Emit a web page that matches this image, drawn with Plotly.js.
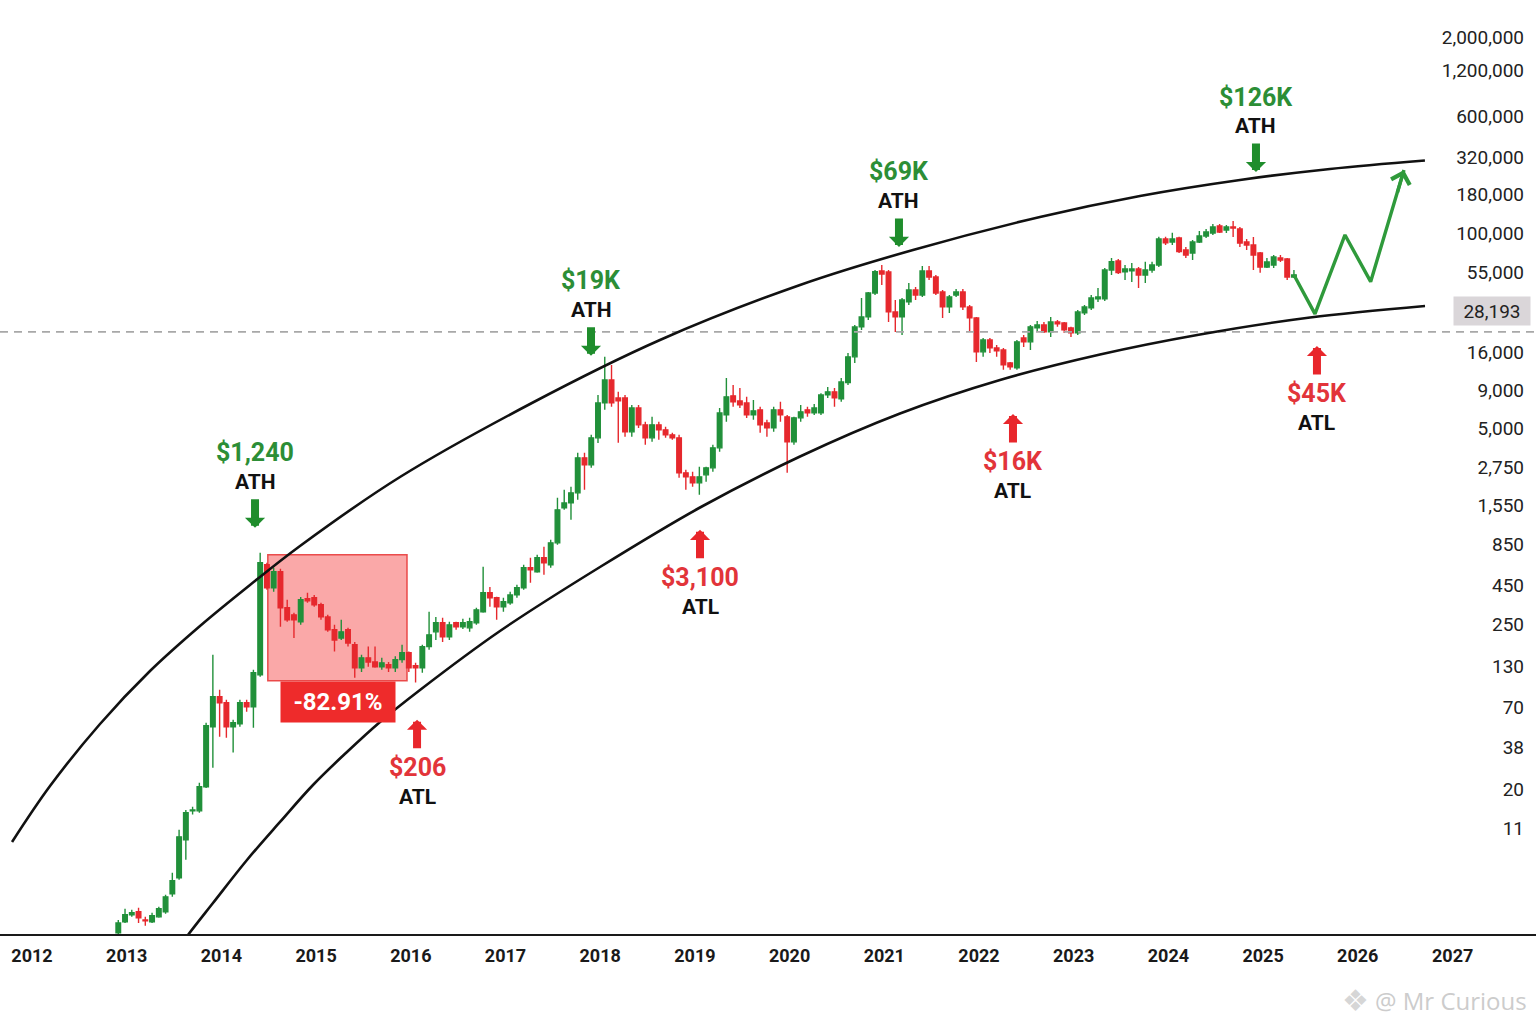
<!DOCTYPE html>
<html>
<head>
<meta charset="utf-8">
<script src="https://cdn.plot.ly/plotly-3.0.1.min.js"></script>
<style>
  html, body { margin: 0; padding: 0; background: #ffffff; }
  #chart { width: 1536px; height: 1024px; }
</style>
</head>
<body>
<div id="chart"></div>
<script>
// ---------------- DATA ----------------
// candle time index: first candle position (decimal year) and spacing between candles (years)
const candleStartYear = 2012.911;
const candleStepYears = 0.07135;

const openP = [
  2.21, 2.61, 2.91, 3.05, 2.69, 2.61, 2.82, 3.05, 4.02, 5.12,
  9.18, 14.3, 14.3, 20.7, 51.9, 82.1, 74.9, 51.9, 54.3, 74.9,
  70.4, 115, 620, 436, 557, 321, 288, 259, 369, 374,
  336, 279, 229, 202, 229, 182, 128, 149, 140, 130,
  134, 128, 145, 161, 132, 128, 177, 222, 255, 206,
  255, 240, 236, 255, 302, 404, 374, 326, 347, 391,
  436, 592, 557, 690, 620, 868, 1484, 1600, 1867, 3191,
  2866, 4333, 7405, 10530, 7995, 7995, 4752, 6860, 5288, 4333,
  5288, 4899, 4538, 4333, 2536, 2385, 2175, 2459, 2737, 3718,
  6163, 8246, 7637, 7405, 6163, 6654, 5452, 5050, 6654, 5978,
  4077, 5890, 6654, 6354, 6354, 8372, 8767, 7873, 10100, 14987,
  23727, 27645, 39907, 55920, 55070, 29847, 27645, 34780, 41790, 38710,
  55920, 51000, 40540, 32220, 38710, 40540, 32220, 27220, 16180, 19440,
  17190, 16680, 13660, 12660, 20040, 18860, 23350, 24460, 21970, 25610,
  25220, 23350, 21630, 29390, 31725, 36410, 36410, 56770, 65170, 55070,
  55920, 57630, 52580, 56770, 61280, 91230, 87160, 92640, 77110, 73640,
  87160, 95560, 100010, 111370, 104730, 109680, 106330, 87160, 83240, 73640,
  59440, 61280, 68210, 67170, 51000
];
const highP = [
  2.69, 3.19, 3.14, 3.24, 2.82, 3.00, 3.29, 3.95, 5.54, 10.7,
  14.5, 15.2, 22.0, 55.1, 156, 91.4, 78.4, 57.7, 78.4, 78.4,
  124, 745, 639, 592, 583, 363, 297, 379, 404, 391,
  347, 288, 247, 267, 236, 190, 156, 177, 177, 149,
  140, 153, 182, 164, 138, 182, 302, 279, 275, 259,
  259, 271, 275, 321, 601, 442, 380, 374, 410, 456,
  620, 690, 722, 817, 909, 1729, 1955, 2047, 3444, 3444,
  4538, 8372, 14990, 13250, 8767, 8372, 7183, 7183, 5538, 5978,
  5538, 5130, 4680, 4538, 2655, 2575, 2780, 2780, 3893, 6860,
  10856, 9757, 9318, 8121, 7755, 6968, 5709, 6968, 7522, 6163,
  5978, 7183, 6968, 7290, 8595, 9464, 9318, 10856, 15928, 24460,
  36970, 40536, 56770, 61280, 56770, 35860, 36970, 46515, 43770, 60360,
  60360, 52580, 41790, 38710, 42430, 42430, 33220, 27645, 20040, 20040,
  18000, 17190, 13880, 19440, 20980, 24460, 26000, 25610, 27645, 26400,
  25610, 23730, 30770, 33220, 38710, 43080, 58526, 68210, 67170, 61280,
  63180, 59440, 64440, 64440, 94500, 94500, 100490, 94500, 80740, 89860,
  103160, 106330, 114790, 114790, 113070, 120230, 109680, 91230, 94100, 74800,
  68210, 71420, 71420, 68210, 56770
];
const lowP = [
  2.11, 2.57, 2.82, 2.57, 2.46, 2.57, 2.78, 2.96, 3.83, 4.97,
  6.76, 13.5, 13.9, 20.3, 27.7, 44.5, 43.9, 34.9, 51.9, 65.3,
  51.1, 111.5, 423, 410, 240, 259, 202, 247, 347, 326,
  267, 222, 164, 196, 177, 110, 120, 130, 128, 124,
  120, 120, 138, 120, 102, 118.5, 169, 196, 190, 196,
  229, 232, 222, 247, 297, 326, 267, 302, 336, 374,
  423, 471, 549, 532, 592, 842, 1439, 1235, 1677, 1955,
  2737, 4000, 6654, 6968, 4014, 4402, 4402, 5050, 3893, 4077,
  4203, 4333, 4203, 2348, 1955, 2047, 1811, 2210, 2575, 3498,
  5538, 6968, 6860, 5886, 5709, 4679, 4402, 4752, 5538, 2536,
  3893, 5538, 5978, 6163, 6163, 7995, 6968, 7522, 9757, 13660,
  22650, 26400, 38710, 45120, 25608, 21970, 20980, 33220, 35860, 37550,
  48710, 38710, 27220, 29385, 37550, 30770, 21970, 13880, 14990, 15930,
  14990, 12280, 12280, 12280, 17460, 16680, 21970, 21630, 20350, 23730,
  21630, 20350, 20980, 28500, 30770, 34780, 35320, 52580, 53380, 48710,
  47250, 43080, 46520, 54440, 59440, 83240, 83240, 73640, 68210, 66160,
  85810, 92640, 97010, 100010, 100010, 94100, 80740, 77110, 56770, 54440,
  58530, 58530, 64180, 48710, 50210
];
const closeP = [
  2.57, 2.91, 3.00, 2.78, 2.65, 2.87, 3.19, 3.83, 4.90, 9.60,
  13.9, 14.5, 20.7, 52.7, 82.1, 74.9, 51.9, 55.1, 74.9, 70.4,
  118.5, 639, 436, 557, 321, 267, 267, 363, 357, 336,
  279, 229, 196, 222, 187, 128, 149, 140, 130, 138,
  128, 145, 161, 128, 128, 177, 212, 255, 206, 247,
  240, 255, 259, 311, 404, 374, 326, 352, 391, 436,
  592, 574, 690, 639, 868, 1439, 1600, 1867, 3191, 2866,
  4333, 7405, 10530, 7405, 7640, 4752, 6860, 5288, 4333, 5288,
  4899, 4538, 4333, 2536, 2385, 2175, 2385, 2737, 3718, 6354,
  8121, 7522, 7183, 6163, 6554, 5288, 5050, 6654, 6163, 4077,
  5890, 6454, 6354, 6860, 8372, 8767, 7995, 10214, 14987, 23727,
  27645, 39907, 55300, 53380, 29847, 27645, 35860, 41790, 38710, 55920,
  51000, 39907, 32220, 37550, 40540, 32220, 27220, 16180, 19440, 17190,
  16430, 13250, 12850, 18857, 18860, 23730, 24460, 21970, 25610, 24830,
  22650, 21630, 29850, 32220, 36970, 37550, 56770, 64440, 54450, 57630,
  57630, 52580, 56770, 61280, 91230, 86180, 91230, 75100, 71420, 87160,
  95560, 101590, 109680, 101590, 109680, 107970, 85810, 83240, 71420, 59440,
  64180, 69280, 66160, 51000, 52580
];

// channel curves (decimal year, price)
const upperYears = [2011.789, 2012.190, 2012.718, 2013.246, 2013.774, 2014.302, 2014.830, 2015.886, 2017.259,
                    2018.631, 2020.110, 2021.303, 2022.644, 2023.700, 2024.756, 2025.706, 2026.709];
const upperPrices = [8.87, 20.9, 54.1, 121.8, 242.8, 455, 827, 2379, 7281,
                     19410, 45080, 77080, 127800, 176300, 225300, 266600, 303600];
const lowerYears = [2013.510, 2013.647, 2013.911, 2014.270, 2014.619, 2014.967, 2015.326, 2015.675, 2016.097, 2016.942,
                    2017.998, 2019.054, 2020.110, 2021.166, 2022.222, 2023.278, 2024.334, 2025.496, 2026.710];
const lowerPrices = [1.62, 2.135, 3.485, 6.735, 12.06, 21.25, 35.23, 55.8, 91.1, 224.9,
                     599.5, 1491, 3257, 6295, 10520, 15540, 21120, 27400, 32690];

// projected path
const projYears = [2025.326, 2025.548, 2025.865, 2026.136, 2026.488];
const projPrices = [52580, 28950, 97010, 47450, 262500];

// reference price line and price tag
const priceLineValue = 21970;
const priceTagValue = 28193;

// drawdown box
const dropBoxYears = [2014.49, 2015.96];
const dropBoxPrices = [722, 105];
const dropLabel = '-82.91%';

// ATH / ATL callouts (arrow tip year, arrow tip price, text)
const athYears = [2014.355, 2017.903, 2021.155, 2024.925];
const athPrices = [1092, 15220, 80740, 254500];
const athTexts = ['$1,240', '$19K', '$69K', '$126K'];
const atlYears = [2016.066, 2019.054, 2022.359, 2025.569];
const atlPrices = [57.7, 1059, 6258, 17730];
const atlTexts = ['$206', '$3,100', '$16K', '$45K'];

// axes
const yearTicks = [2012, 2013, 2014, 2015, 2016, 2017, 2018, 2019, 2020, 2021, 2022, 2023, 2024, 2025, 2026, 2027];
const priceTicks = [11, 20, 38, 70, 130, 250, 450, 850, 1550, 2750, 5000, 9000, 16000, 55000, 100000, 180000, 320000, 600000, 1200000, 2000000];
const xRange = [2011.662, 2027.882];
const yRangeLog = [0.336, 6.550];
const watermark = '@ Mr Curious';

// ---------------- STYLE ----------------
const GREEN = '#21903a';
const RED = '#e6282d';
const TXT_GREEN = '#2c8e36';
const TXT_RED = '#e2343a';
const FONT = 'Roboto, Inter, "Liberation Sans", sans-serif';
const XFONT = { family: FONT, size: 18, color: '#1a1a1a', weight: 700 };
const fmt = v => String(v).replace(/\B(?=(\d{3})+(?!\d))/g, ',');
const L = v => Math.log10(v);

const candleX = openP.map((_, i) => candleStartYear + i * candleStepYears);

const traces = [
  {
    type: 'scatter', mode: 'lines',
    x: xRange, y: [priceLineValue, priceLineValue],
    line: { color: '#a8a8a8', width: 1.6, dash: '8px,6px' },
    hoverinfo: 'skip', showlegend: false
  },
  {
    type: 'candlestick',
    x: candleX, open: openP, high: highP, low: lowP, close: closeP,
    increasing: { line: { color: GREEN, width: 1.4 }, fillcolor: GREEN },
    decreasing: { line: { color: RED, width: 1.4 }, fillcolor: RED },
    whiskerwidth: 0, hoverinfo: 'skip', showlegend: false
  },
  {
    type: 'scatter', mode: 'lines', x: upperYears, y: upperPrices,
    line: { color: '#111111', width: 2.6, shape: 'spline', smoothing: 1 },
    hoverinfo: 'skip', showlegend: false
  },
  {
    type: 'scatter', mode: 'lines', x: lowerYears, y: lowerPrices,
    line: { color: '#111111', width: 2.6, shape: 'spline', smoothing: 1 },
    hoverinfo: 'skip', showlegend: false
  },
  {
    type: 'scatter', mode: 'lines', x: projYears, y: projPrices,
    line: { color: '#2f9a3b', width: 3.4 },
    hoverinfo: 'skip', showlegend: false
  }
];

// drawdown box drawn beneath the candles (shape positions on a log axis are data values)
const shapes = [{
  type: 'rect', layer: 'below', xref: 'x', yref: 'y',
  x0: dropBoxYears[0], x1: dropBoxYears[1], y0: dropBoxPrices[1], y1: dropBoxPrices[0],
  fillcolor: 'rgba(246,88,88,0.52)', line: { color: 'rgba(232,60,60,0.9)', width: 1.5 }
}];

const annotations = [];
athYears.forEach((yr, i) => {
  const y = L(athPrices[i]);
  annotations.push({ x: yr, y: y, xref: 'x', yref: 'y', text: '', showarrow: true,
    ax: 0, ay: -30, axref: 'pixel', ayref: 'pixel', arrowhead: 1, arrowsize: 0.42, arrowwidth: 8, arrowcolor: '#1f8d2c' });
  annotations.push({ x: yr, y: y, xref: 'x', yref: 'y', text: 'ATH', showarrow: false, yshift: 46,
    font: { family: FONT, size: 21, color: '#111', weight: 700 } });
  annotations.push({ x: yr, y: y, xref: 'x', yref: 'y', text: athTexts[i], showarrow: false, yshift: 75,
    font: { family: FONT, size: 25, color: TXT_GREEN, weight: 700 } });
});
atlYears.forEach((yr, i) => {
  const y = L(atlPrices[i]);
  annotations.push({ x: yr, y: y, xref: 'x', yref: 'y', text: '', showarrow: true,
    ax: 0, ay: 30, axref: 'pixel', ayref: 'pixel', arrowhead: 1, arrowsize: 0.42, arrowwidth: 8, arrowcolor: '#e8262b' });
  annotations.push({ x: yr, y: y, xref: 'x', yref: 'y', text: atlTexts[i], showarrow: false, yshift: -48,
    font: { family: FONT, size: 25, color: TXT_RED, weight: 700 } });
  annotations.push({ x: yr, y: y, xref: 'x', yref: 'y', text: 'ATL', showarrow: false, yshift: -77,
    font: { family: FONT, size: 21, color: '#111', weight: 700 } });
});
// drawdown label under the box
annotations.push({ x: (dropBoxYears[0] + dropBoxYears[1]) / 2 + 0.01, y: L(dropBoxPrices[1]), xref: 'x', yref: 'y',
  xanchor: 'center', yanchor: 'top', text: dropLabel, showarrow: false, width: 114, height: 40, bgcolor: '#ee2b2b', borderpad: 0,
  font: { family: FONT, size: 24, color: '#ffffff', weight: 700 } });
// projection arrow head
const nP = projYears.length - 1;
annotations.push({ x: projYears[nP], y: L(projPrices[nP]), xref: 'x', yref: 'y', text: '', showarrow: true,
  ax: -7, ay: 24, axref: 'pixel', ayref: 'pixel', arrowhead: 4, arrowsize: 1.1, arrowwidth: 3.4, arrowcolor: '#2f9a3b' });
// price tag on the right scale
annotations.push({ x: 1492 / 1536, xref: 'paper', xanchor: 'center', y: L(priceTagValue), yref: 'y', yanchor: 'middle', yshift: 5,
  text: fmt(priceTagValue), showarrow: false, width: 74, height: 26, bgcolor: '#dad6d9',
  font: { family: FONT, size: 19, color: '#222' } });
// last year label (the plot hides this tick label under the inside price labels)
annotations.push({ x: yearTicks[yearTicks.length - 1], xref: 'x', y: -21 / 934, yref: 'paper', xanchor: 'center', yanchor: 'middle',
  text: String(yearTicks[yearTicks.length - 1]), showarrow: false, font: XFONT });
// watermark
annotations.push({ x: 1371 / 1536, xref: 'paper', y: -0.0707, yref: 'paper', xanchor: 'right', yanchor: 'middle',
  text: '❖', showarrow: false, font: { family: 'DejaVu Sans', size: 30, color: '#d6d6d6' } });
annotations.push({ x: 1529 / 1536, xref: 'paper', y: -0.0707, yref: 'paper', xanchor: 'right', yanchor: 'middle',
  text: watermark, showarrow: false, font: { family: '"Open Sans", sans-serif', size: 24, color: '#cccccc' } });

const layout = {
  width: 1536, height: 1024,
  margin: { l: 0, r: 0, t: 0, b: 90, pad: 0 },
  paper_bgcolor: '#ffffff', plot_bgcolor: '#ffffff',
  showlegend: false, hovermode: false,
  boxgap: 0.1, boxgroupgap: 0.25,
  xaxis: {
    type: 'linear', range: xRange, fixedrange: true,
    tickmode: 'array', tickvals: yearTicks.slice(0, -1), ticktext: yearTicks.slice(0, -1).map(String),
    showgrid: false, zeroline: false, showline: true, linecolor: '#1a1a1a', linewidth: 2,
    ticks: '', ticklabelstandoff: 4,
    tickfont: XFONT,
    rangeslider: { visible: false }
  },
  yaxis: {
    type: 'log', range: yRangeLog, fixedrange: true, side: 'right',
    tickmode: 'array', tickvals: priceTicks, ticktext: priceTicks.map(fmt),
    ticklabelposition: 'inside', ticklabelstandoff: 9,
    showgrid: false, zeroline: false, showline: false, ticks: '',
    tickfont: { family: FONT, size: 19, color: '#222222' }
  },
  shapes: shapes,
  annotations: annotations
};

Plotly.newPlot('chart', traces, layout, { staticPlot: true, displayModeBar: false });
</script>
</body>
</html>
